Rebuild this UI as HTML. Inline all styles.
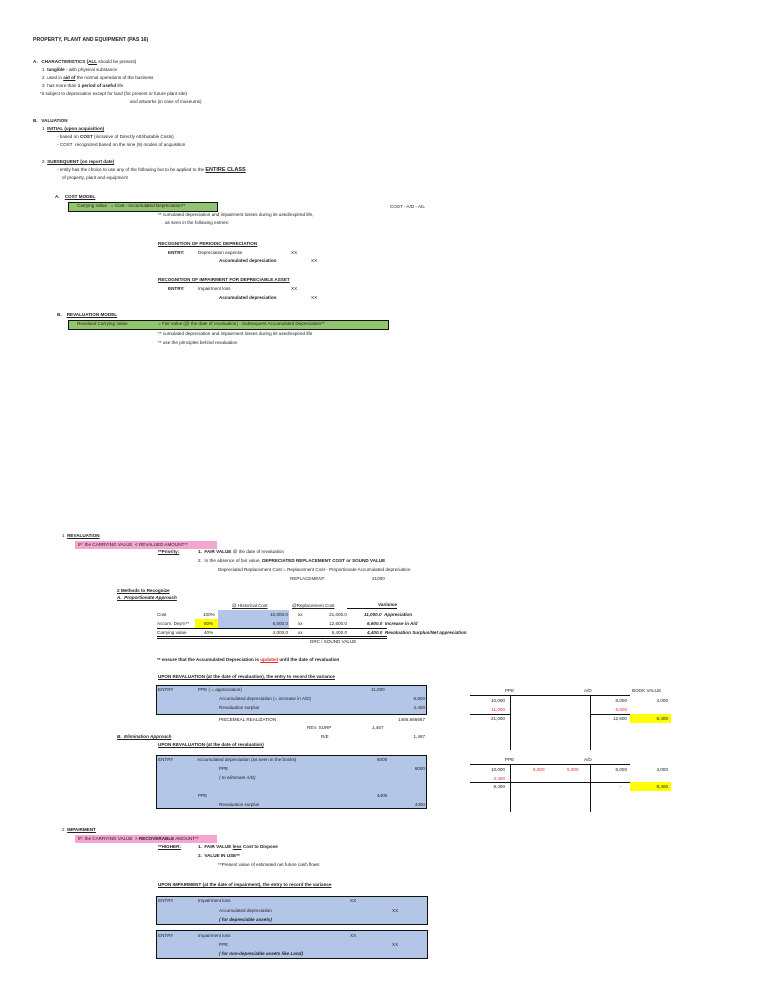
<!DOCTYPE html>
<html><head><meta charset="utf-8"><style>
body{margin:0;width:768px;height:994px;background:#fff;position:relative;font-family:"Liberation Sans",sans-serif;font-size:4.6px;color:#222;overflow:hidden}
.t{position:absolute;white-space:nowrap;line-height:6px}
.b{font-weight:bold}.u{text-decoration:underline}.i{font-style:italic}
.r{text-align:right}
.red{color:#e03030}
.box{position:absolute;border:1.3px solid #111;box-sizing:border-box}
.g{background:#92c46f}.bl{background:#b4c6e7}.pk{background:#f4a6d0;position:absolute}
.ln{position:absolute;background:#111}
.y{background:#ffff00;position:absolute}
</style></head><body>
<div class="t b" style="left:33px;top:37px;font-size:5.2px">PROPERTY, PLANT AND EQUIPMENT (PAS 16)</div>
<div class="t b" style="left:33px;top:59px">A.&nbsp;&nbsp;&nbsp;CHARACTERISTICS (<span class="u">ALL</span> <span style="font-weight:normal">should be present)</span></div>
<div class="t" style="left:42px;top:67px">1 &nbsp;<b>tangible</b> - with physical substance</div>
<div class="t" style="left:42px;top:75px">2 &nbsp;used in <b class="u">aid of</b> the normal operations of the business</div>
<div class="t" style="left:42px;top:83px">3 &nbsp;has more than <b>1 period of useful</b> life</div>
<div class="t" style="left:40px;top:91px">*it subject to depreciation except for land (for present or future plant site)</div>
<div class="t" style="left:130px;top:99px">and artworks (in case of museums)</div>
<div class="t b" style="left:33px;top:118px">B.&nbsp;&nbsp;&nbsp;VALUATION</div>
<div class="t" style="left:42px;top:126px">1 &nbsp;<b class="u">INITIAL (upon acquisition)</b></div>
<div class="t" style="left:57px;top:134px">- based on <b>COST</b> (inclusive of Directly Attributable Costs)</div>
<div class="t" style="left:57px;top:142px">- COST &nbsp;recognized based on the nine (9) modes of acquisition</div>
<div class="t" style="left:42px;top:159px">2 &nbsp;<b class="u">SUBSEQUENT (on report date)</b></div>
<div class="t" style="left:57px;top:167px">- entity has the choice to use any of the following but to be applied to the <b class="u" style="font-size:5.5px">ENTIRE CLASS</b></div>
<div class="t" style="left:62px;top:175px">of property, plant and equipment</div>
<div class="t b" style="left:55px;top:194px">A.&nbsp;&nbsp;&nbsp;&nbsp;<span class="u">COST MODEL</span></div>
<div class="box g" style="left:68px;top:202px;width:150px;height:10px"></div>
<div class="t" style="left:77px;top:203px">Carrying Value &nbsp;&nbsp;= Cost - Accumulated Depreciation**</div>
<div class="t" style="left:390px;top:204px">COST - A/D - AIL</div>
<div class="t" style="left:158px;top:212px">** cumulated depreciation and impairment losses during its used/expired life,</div>
<div class="t" style="left:165px;top:220px">as seen in the following entries:</div>
<div class="t b u" style="left:158px;top:241px">RECOGNITION OF PERIODIC DEPRECIATION</div>
<div class="t b" style="left:168px;top:250px">ENTRY:</div><div class="t" style="left:198px;top:250px">Depreciation expense</div><div class="t" style="left:291px;top:250px">XX</div>
<div class="t b" style="left:219px;top:258px">Accumulated depreciation</div><div class="t" style="left:311px;top:258px">XX</div>
<div class="t b u" style="left:158px;top:277px">RECOGNITION OF IMPAIRMENT FOR DEPRECIABLE ASSET</div>
<div class="t b" style="left:168px;top:286px">ENTRY:</div><div class="t" style="left:198px;top:286px">Impairment loss</div><div class="t" style="left:291px;top:286px">XX</div>
<div class="t b" style="left:219px;top:295px">Accumulated depreciation</div><div class="t" style="left:311px;top:295px">XX</div>
<div class="t b" style="left:57px;top:312px">B.&nbsp;&nbsp;&nbsp;&nbsp;<span class="u">REVALUATION MODEL</span></div>
<div class="box g" style="left:68px;top:320px;width:321px;height:10px"></div>
<div class="t" style="left:77px;top:321px">Revalued Carrying Value</div>
<div class="t" style="left:158px;top:321px">= Fair value (@ the date of revaluation) - Subsequent Accumulated Depreciation**</div>
<div class="t" style="left:158px;top:331px">** cumulated depreciation and impairment losses during its used/expired life</div>
<div class="t" style="left:158px;top:340px">** use the principles behind revaluation</div>

<div class="t" style="left:62px;top:533px">1 &nbsp;<b class="u">REVALUATION</b></div>
<div class="pk" style="left:75px;top:541px;width:142px;height:8px"></div>
<div class="t" style="left:78px;top:542px">IF: the CARRYING VALUE &nbsp;&lt; REVALUED AMOUNT**</div>
<div class="t b u" style="left:158px;top:549px">**Priority:</div>
<div class="t" style="left:198px;top:549px"><b>1. &nbsp;FAIR VALUE</b> @ the date of revaluation</div>
<div class="t" style="left:198px;top:558px">2. &nbsp;In the absence of fair value, <b>DEPRECIATED REPLACEMENT COST or SOUND VALUE</b></div>
<div class="t" style="left:218px;top:567px">Depreciated Replacement Cost = Replacement Cost - Proportionate Accumulated depreciation</div>
<div class="t" style="left:290px;top:576px">REPLACEMENT</div><div class="t" style="left:372px;top:576px">21000</div>
<div class="t b u" style="left:117px;top:588px">2 Methods to Recognize</div>
<div class="t b u i" style="left:117px;top:595px">A. &nbsp;Proportionate Approach</div>
<div class="t u" style="left:232px;top:603px">@ Historical Cost</div>
<div class="t u" style="left:292px;top:603px">@Replacement Cost</div>
<div class="t b i" style="left:378px;top:602px">Variance</div>
<div class="ln" style="left:347px;top:608px;width:50px;height:0.8px"></div>
<div class="box bl" style="left:218px;top:610px;width:71px;height:18px;border:none"></div>
<div class="y" style="left:195px;top:619px;width:23px;height:9px"></div>
<div class="t" style="left:157px;top:612px">Cost</div><div class="t" style="left:203px;top:612px">100%</div><div class="t r" style="left:240px;top:612px;width:48px">10,000.0</div><div class="t" style="left:298px;top:612px">xx</div><div class="t r" style="left:310px;top:612px;width:37px">21,000.0</div><div class="t b i" style="left:364px;top:612px">11,000.0 &nbsp;Appreciation</div>
<div class="t" style="left:157px;top:621px">Accum. Dep'n**</div><div class="t" style="left:204px;top:621px">60%</div><div class="t r" style="left:240px;top:621px;width:48px">6,000.0</div><div class="t" style="left:298px;top:621px">xx</div><div class="t r" style="left:310px;top:621px;width:37px">12,600.0</div><div class="t b i" style="left:367px;top:621px">6,600.0 &nbsp;Increase in A/d</div>
<div class="ln" style="left:157px;top:628px;width:230px;height:0.8px"></div>
<div class="t" style="left:157px;top:630px">Carrying value</div><div class="t" style="left:204px;top:630px">40%</div><div class="t r" style="left:240px;top:630px;width:48px">4,000.0</div><div class="t" style="left:298px;top:630px">xx</div><div class="t r" style="left:310px;top:630px;width:37px">8,400.0</div><div class="t b i" style="left:367px;top:630px">4,400.0 &nbsp;Revaluation Surplus/Net appreciation</div>
<div class="ln" style="left:157px;top:636px;width:230px;height:0.8px"></div><div class="ln" style="left:157px;top:638px;width:230px;height:0.8px"></div>
<div class="t" style="left:310px;top:639px">DRC / SOUND VALUE</div>
<div class="t b" style="left:157px;top:657px">** ensure that the Accumulated Depreciation is <span class="u" style="color:#e03030">updated</span> until the date of revaluation</div>

<div class="t b u" style="left:158px;top:674px">UPON REVALUATION (at the date of revaluation), the entry to record the variance</div>
<div class="box bl" style="left:156px;top:685px;width:271px;height:30px"></div>
<div class="t" style="left:158px;top:687px">ENTRY</div><div class="t" style="left:198px;top:687px">PPE ( = appreciation)</div><div class="t" style="left:371px;top:687px">11,000</div>
<div class="t" style="left:219px;top:696px">Accumulated depreciation (= increase in A/D)</div><div class="t r" style="left:390px;top:696px;width:35px">6,600</div>
<div class="t" style="left:219px;top:705px">Revaluation surplus</div><div class="t r" style="left:390px;top:705px;width:35px">4,400</div>
<div class="t" style="left:219px;top:717px">PIECEMEAL REALIZATION</div><div class="t r" style="left:380px;top:717px;width:45px">1466.666667</div>
<div class="t" style="left:307px;top:725px">REV. SURP</div><div class="t" style="left:372px;top:725px">1,467</div>
<div class="t b u i" style="left:117px;top:734px">B. &nbsp;Elimination Approach</div><div class="t" style="left:321px;top:734px">R/E</div><div class="t r" style="left:390px;top:734px;width:35px">1,467</div>
<div class="t b u" style="left:158px;top:742px">UPON REVALUATION (at the date of revaluation)</div>
<div class="box bl" style="left:156px;top:755px;width:271px;height:54px"></div>
<div class="t" style="left:158px;top:757px">ENTRY</div><div class="t" style="left:197px;top:757px">Accumulated depreciation (as seen in the books)</div><div class="t" style="left:377px;top:757px">6000</div>
<div class="t" style="left:219px;top:766px">PPE</div><div class="t r" style="left:390px;top:766px;width:35px">6000</div>
<div class="t i" style="left:219px;top:775px">( to eliminate A/D)</div>
<div class="t" style="left:198px;top:793px">PPE</div><div class="t" style="left:377px;top:793px">4400</div>
<div class="t" style="left:219px;top:802px">Revaluation surplus</div><div class="t r" style="left:390px;top:802px;width:35px">4400</div>

<!-- T accounts -->
<div class="t" style="left:505px;top:688px">PPE</div><div class="t" style="left:584px;top:688px">A/D</div><div class="t" style="left:632px;top:688px">BOOK VALUE</div>
<div class="ln" style="left:470px;top:695px;width:160px;height:0.8px"></div>
<div class="ln" style="left:510px;top:695px;width:0.8px;height:55px"></div><div class="ln" style="left:590px;top:695px;width:0.8px;height:55px"></div>
<div class="t r" style="left:470px;top:698px;width:35px">10,000</div><div class="t r" style="left:590px;top:698px;width:37px">6,000</div><div class="t r" style="left:630px;top:698px;width:38px">4,000</div>
<div class="t r red" style="left:470px;top:707px;width:35px">11,000</div><div class="t r red" style="left:590px;top:707px;width:37px">6,600</div>
<div class="ln" style="left:470px;top:714px;width:40px;height:0.8px"></div><div class="ln" style="left:590px;top:714px;width:40px;height:0.8px"></div>
<div class="y" style="left:630px;top:714px;width:41px;height:9px"></div>
<div class="t r" style="left:470px;top:716px;width:35px">21,000</div><div class="t r" style="left:590px;top:716px;width:37px">12,600</div><div class="t r" style="left:630px;top:716px;width:38px">8,400</div>
<div class="t" style="left:505px;top:757px">PPE</div><div class="t" style="left:584px;top:757px">A/D</div>
<div class="ln" style="left:470px;top:764px;width:160px;height:0.8px"></div>
<div class="ln" style="left:510px;top:764px;width:0.8px;height:48px"></div><div class="ln" style="left:590px;top:764px;width:0.8px;height:48px"></div>
<div class="t r" style="left:470px;top:767px;width:35px">10,000</div><div class="t red" style="left:533px;top:767px">6,000</div><div class="t red" style="left:567px;top:767px">6,000</div><div class="t r" style="left:590px;top:767px;width:37px">6,000</div><div class="t r" style="left:630px;top:767px;width:38px">4,000</div>
<div class="t r red" style="left:470px;top:776px;width:35px">4,400</div>
<div class="ln" style="left:470px;top:782px;width:160px;height:0.8px"></div>
<div class="y" style="left:630px;top:782px;width:41px;height:9px"></div>
<div class="t r" style="left:470px;top:784px;width:35px">8,400</div><div class="t" style="left:620px;top:784px">-</div><div class="t r" style="left:630px;top:784px;width:38px">8,400</div>

<div class="t" style="left:62px;top:827px">2 &nbsp;<b class="u">IMPAIRMENT</b></div>
<div class="pk" style="left:75px;top:835px;width:142px;height:8px"></div>
<div class="t" style="left:78px;top:836px">IF: the CARRYING VALUE &nbsp;&gt; <b>RECOVERABLE</b> AMOUNT**</div>
<div class="t b u" style="left:158px;top:844px">**HIGHER:</div>
<div class="t b" style="left:198px;top:844px">1. &nbsp;FAIR VALUE <span class="u">less</span> Cost to Dispose</div>
<div class="t b" style="left:198px;top:853px">2. &nbsp;VALUE IN USE**</div>
<div class="t" style="left:218px;top:862px">**Present value of estimated net future cash flows</div>
<div class="t b u" style="left:158px;top:882px">UPON IMPAIRMENT (at the date of impairment), the entry to record the variance</div>
<div class="box bl" style="left:156px;top:896px;width:272px;height:29px"></div>
<div class="t" style="left:158px;top:898px">ENTRY</div><div class="t" style="left:198px;top:898px">Impairment loss</div><div class="t" style="left:350px;top:898px">XX</div>
<div class="t" style="left:219px;top:908px">Accumulated depreciation</div><div class="t" style="left:392px;top:908px">XX</div>
<div class="t b i" style="left:219px;top:917px">( for depreciable assets)</div>
<div class="box bl" style="left:156px;top:930px;width:272px;height:29px"></div>
<div class="t" style="left:158px;top:933px">ENTRY</div><div class="t" style="left:198px;top:933px">Impairment loss</div><div class="t" style="left:350px;top:933px">XX</div>
<div class="t" style="left:219px;top:942px">PPE</div><div class="t" style="left:392px;top:942px">XX</div>
<div class="t b i" style="left:219px;top:951px">( for non-depreciable assets like Land)</div>
</body></html>
